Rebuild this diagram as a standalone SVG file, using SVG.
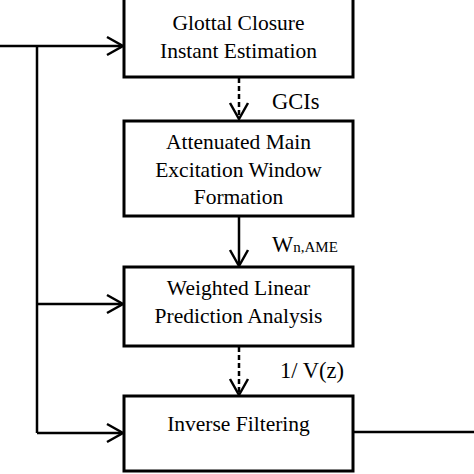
<svg xmlns="http://www.w3.org/2000/svg" width="474" height="474" viewBox="0 0 474 474">
<style>
.box{fill:#fff;stroke:#000;stroke-width:3}
.ln{fill:none;stroke:#000;stroke-width:2.5}
.dash{stroke-dasharray:5,3}
.ah{fill:none;stroke:#000;stroke-width:2.5}
text{font-family:"Liberation Serif","Times New Roman",serif;font-size:21.5px;fill:#000}
.c{text-anchor:middle}
.lbl{font-size:22.5px}
.sub{font-size:15px}
</style>
<rect width="474" height="474" fill="#fff"/>
<g id="connectors">
<path class="ln" d="M0 46H122"/>
<path class="ln" d="M37 46V433"/>
<path class="ln" d="M37 304H122"/>
<path class="ln" d="M37 433H122"/>
<path class="ln" d="M353 432H474"/>
<path class="ln dash" d="M239 78V118"/>
<path class="ln" d="M239 217V265"/>
<path class="ln dash" d="M239 347V394"/>
<path class="ah" d="M107 37L123 46L107 55"/>
<path class="ah" d="M107 295L123 304L107 313"/>
<path class="ah" d="M107 424L123 433L107 442"/>
<path class="ah" d="M230 103L239 119L248 103"/>
<path class="ah" d="M230 250L239 266L248 250"/>
<path class="ah" d="M230 379L239 395L248 379"/>
</g>
<g id="n1">
<rect class="box" x="124" y="-3" width="229" height="80"/>
<text class="c" x="238.5" y="30">Glottal Closure</text>
<text class="c" x="238.5" y="58">Instant Estimation</text>
</g>
<g id="n2">
<rect class="box" x="124" y="121" width="229" height="95"/>
<text class="c" x="238.5" y="149">Attenuated Main</text>
<text class="c" x="238.5" y="177">Excitation Window</text>
<text class="c" x="238.5" y="204">Formation</text>
</g>
<g id="n3">
<rect class="box" x="124" y="267" width="229" height="79"/>
<text class="c" x="238.5" y="295">Weighted Linear</text>
<text class="c" x="238.5" y="323">Prediction Analysis</text>
</g>
<g id="n4">
<rect class="box" x="124" y="396" width="229" height="75"/>
<text class="c" x="238.5" y="431">Inverse Filtering</text>
</g>
<g id="labels">
<text class="lbl" x="272" y="109">GCIs</text>
<text class="lbl" x="272" y="252">W<tspan class="sub">n,AME</tspan></text>
<text class="lbl" x="280" y="378">1/ V(z)</text>
</g>
</svg>
